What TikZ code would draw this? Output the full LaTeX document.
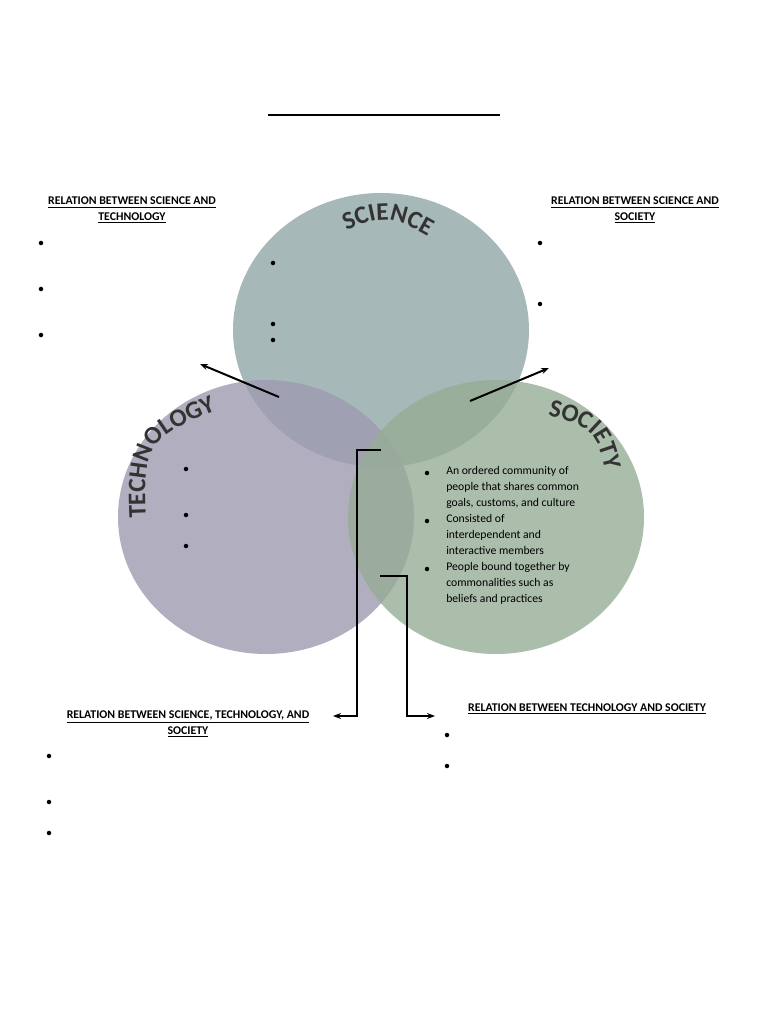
\documentclass[tikz,border=0pt]{standalone}
\usepackage{fontspec}
\setmainfont{Carlito}
\usetikzlibrary{positioning,decorations.text,arrows.meta}
\definecolor{scicol}{RGB}{150,172,172}
\definecolor{teccol}{RGB}{158,154,176}
\definecolor{soccol}{RGB}{150,172,150}

\begin{document}
\begin{tikzpicture}[x=0.02646cm, y=-0.02646cm,
  head/.style={font=\fontsize{8.9}{11.5}\selectfont\bfseries, align=center},
  dot/.style={circle, fill=black, inner sep=1.2pt},
  item/.style={font=\fontsize{8.8}{12}\selectfont, anchor=north west, align=left, inner sep=0pt},
  link/.style={line width=1.5pt, -{Stealth[length=6pt]}}]
\useasboundingbox (0,0) rectangle (768,1024);

% circles
\fill[fill=scicol, fill opacity=0.85] (381,330) ellipse (148 and 137);
\fill[fill=teccol, fill opacity=0.8] (266,517) ellipse (148 and 137);
\fill[fill=soccol, fill opacity=0.8] (496,517) ellipse (148 and 137);

% titles on the circles
\path[decorate, decoration={text along path, text align=center,
  text format delimiters={|}{|}, text={|\fontsize{19}{19}\selectfont\bfseries\color{black!80}|SCIENCE}}]
  (325,240) .. controls (388,212) .. (448,248);
\path[decorate, decoration={text along path, text align=center,
  text format delimiters={|}{|}, text={|\fontsize{19}{19}\selectfont\bfseries\color{black!80}|TECHNOLOGY}}]
  (147,540) .. controls (142,440) .. (237,402);
\path[decorate, decoration={text along path, text align=center,
  text format delimiters={|}{|}, text={|\fontsize{19}{19}\selectfont\bfseries\color{black!80}|SOCIETY}}]
  (526,410) .. controls (598,427) .. (610,492);

% title line
\coordinate (t1) at (268,115);
\coordinate (t2) at (500,115);
\draw[line width=0.8pt] (t1) -- (t2);

% headings
\node[head] (hst) at (132,210) {\underline{RELATION BETWEEN SCIENCE AND}\\\underline{TECHNOLOGY}};
\node[head] (hso) at (635,210) {\underline{RELATION BETWEEN SCIENCE AND}\\\underline{SOCIETY}};
\node[head] (hall) at (188,724) {\underline{RELATION BETWEEN SCIENCE, TECHNOLOGY, AND}\\\underline{SOCIETY}};
\node[head] (hts) at (587,709) {\underline{RELATION BETWEEN TECHNOLOGY AND SOCIETY}};

% empty bullets
\foreach \x/\y [count=\i] in {41/243, 41/289, 41/335, 273/263, 273/324, 273/340,
  540/243, 540/304, 186/469, 186/515, 186/546, 49/756, 49/802, 49/833, 447/735, 447/766}
  \node[dot] (b\i) at (\x,\y) {};

% society notes
\node[dot] (s1) at (427,473) {};
\node[dot] (s2) at (427,521) {};
\node[dot] (s3) at (427,569) {};
\node[item] (n1) at (446,466) {An ordered community of\\people that shares common\\goals, customs, and culture};
\node[item] (n2) at (446,514) {Consisted of\\interdependent and\\interactive members};
\node[item] (n3) at (446,562) {People bound together by\\commonalities such as\\beliefs and practices};

% connectors
\coordinate (a1) at (279,397);
\coordinate (a2) at (200,364);
\coordinate (c1) at (470,401);
\coordinate (c2) at (549,368);
\draw[link] (a1) -- (a2);
\draw[link] (c1) -- (c2);
\coordinate (m1) at (381,450);
\coordinate (m2) at (333,716);
\draw[link] (m1) -- (357,450) -- (357,716) -- (m2);
\coordinate (p1) at (380,576);
\coordinate (p2) at (435,716);
\draw[link] (p1) -- (407,576) -- (407,716) -- (p2);
\end{tikzpicture}
\end{document}
